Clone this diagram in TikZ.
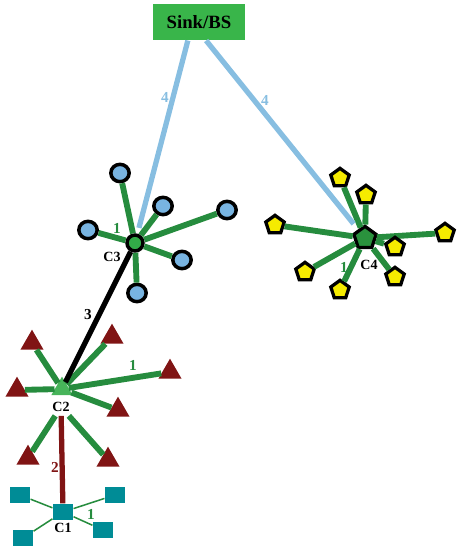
\documentclass[tikz,border=0pt]{standalone}
\usepackage{fontspec}
\setmainfont{Liberation Serif}
\usetikzlibrary{shapes.geometric}
\definecolor{sinkgreen}{RGB}{57,181,74}
\definecolor{linkgreen}{RGB}{38,140,62}
\definecolor{hubgreen}{RGB}{50,172,72}
\definecolor{linkblue}{RGB}{135,190,225}
\definecolor{cellblue}{RGB}{120,180,225}
\definecolor{cellred}{RGB}{128,20,20}
\definecolor{cellteal}{RGB}{0,140,150}
\definecolor{cellyellow}{RGB}{245,235,0}
\tikzset{sink/.style={rectangle, fill=sinkgreen, minimum width=2.75cm, minimum height=1.1cm,
            font=\bfseries\fontsize{16}{16}\selectfont},
         circnode/.style={ellipse, draw=black, line width=3pt, fill=cellblue,
            minimum width=0.55cm, minimum height=0.52cm, inner sep=0},
         pentnode/.style={regular polygon, regular polygon sides=5, draw=black, line width=2.8pt,
            fill=cellyellow, minimum size=0.58cm, inner sep=0},
         trinode/.style={regular polygon, regular polygon sides=3, fill=cellred,
            minimum size=0.8cm, inner sep=0},
         sqnode/.style={rectangle, fill=cellteal, minimum width=0.62cm, minimum height=0.5cm, inner sep=0},
         link/.style={draw=linkgreen, line width=5pt},
         uplink/.style={draw=linkblue, line width=4.5pt},
         hoplabel/.style={font=\bfseries\fontsize{13}{13}\selectfont, text=#1},
         hoplabel/.default=linkgreen,
         chlabel/.style={font=\bfseries\fontsize{12}{12}\selectfont}}
\begin{document}
\begin{tikzpicture}[x=0.03cm, y=-0.03cm]
\useasboundingbox (0,0) rectangle (461,550);
\node[sink] (bs) at (199,22) {Sink/BS};
% cluster C3
\node[circle, draw=black, line width=3pt, fill=hubgreen, minimum size=0.48cm, inner sep=0] (c3) at (135,243) {};
\node[chlabel] (c3lab) at (112,257) {C3};
\foreach \x/\y [count=\i] in {120/173, 163/206, 227/210, 88/230, 182/260, 137/293} {
    \node[circnode] (c3l\i) at (\x,\y) {};
    \draw[link] (c3) -- (c3l\i);
}
% cluster C4
\node[regular polygon, regular polygon sides=5, draw=black, line width=2.8pt, fill=hubgreen!85!black,
      minimum size=0.7cm, inner sep=0] (c4) at (365,238) {};
\node[chlabel] (c4lab) at (369,265) {C4};
\foreach \x/\y [count=\i] in {340/178, 366/195, 275/225, 445/233, 395/247, 305/272, 395/277, 340/290} {
    \node[pentnode] (c4l\i) at (\x,\y) {};
    \draw[link] (c4) -- (c4l\i);
}
% cluster C2
\node[regular polygon, regular polygon sides=3, fill=hubgreen!90!white, minimum size=0.74cm, inner sep=0] (c2) at (62,389) {};
\node[chlabel] (c2lab) at (61,407) {C2};
\foreach \x/\y [count=\i] in {32/343, 112/337, 17/390, 170/372, 118/410} {
    \node[trinode] (c2l\i) at (\x,\y) {};
    \draw[link] (c2) -- (c2l\i);
}
\node[trinode] (c2l6) at (28,458) {};
\node[trinode] (c2l7) at (108,460) {};
\draw[link] (c2lab) -- (c2l6);
\draw[link] (c2lab) -- (c2l7);
% cluster C1
\node[sqnode] (c1) at (63,512) {};
\node[chlabel] (c1lab) at (63,528) {C1};
\foreach \x/\y [count=\i] in {20/495, 115/495, 23/538, 103/530} {
    \node[sqnode] (c1l\i) at (\x,\y) {};
    \draw[draw=linkgreen, line width=1.3pt] (c1) -- (c1l\i);
}
% inter-cluster links
\draw[uplink, shorten >=5pt] (bs.239) -- (c3);
\draw[uplink, shorten >=6pt] (bs.291) -- (c4);
\draw[line width=4.5pt] (c3) -- (c2);
\draw[draw=cellred, line width=4.5pt] (c2lab) -- (c1);
% hop labels
\node[hoplabel=linkblue] (h4a) at (165,97) {4};
\node[hoplabel=linkblue] (h4b) at (265,100) {4};
\node[hoplabel=black] (h3) at (88,315) {3};
\node[hoplabel=cellred] (h2) at (55,467) {2};
\node[hoplabel] (h1a) at (117,228) {1};
\node[hoplabel] (h1b) at (344,267) {1};
\node[hoplabel] (h1c) at (133,365) {1};
\node[hoplabel] (h1d) at (91,514) {1};
\end{tikzpicture}
\end{document}
